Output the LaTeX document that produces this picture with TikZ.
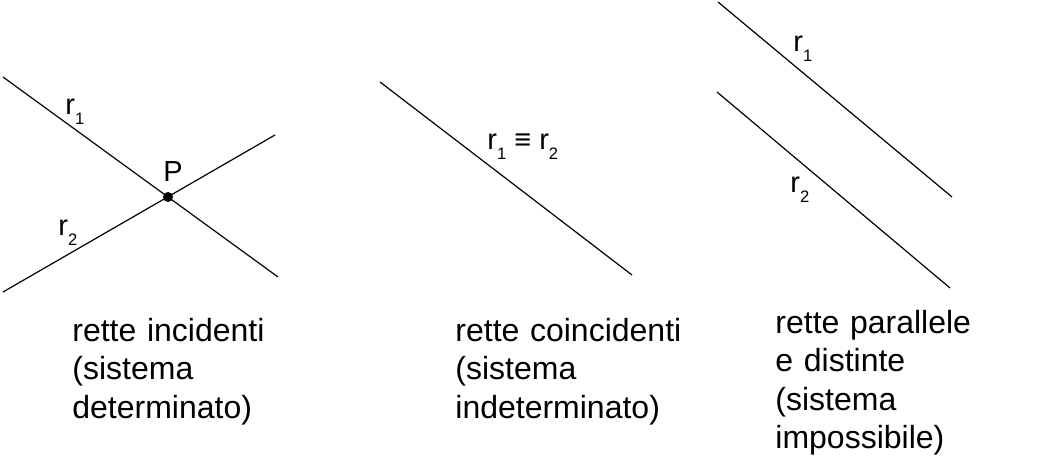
\documentclass[tikz,border=0pt]{standalone}
\usepackage{fontspec}
\setmainfont{Liberation Sans}
\usetikzlibrary{positioning}
\newcommand{\idx}[1]{\raisebox{-5pt}{\fontsize{8.3}{8.3}\selectfont #1}}

\begin{document}
\begin{tikzpicture}[
    x=0.5pt, y=-0.5pt,
    retta/.style={line width=0.6pt, black},
    lbl/.style={anchor=base west, inner sep=0pt, font=\fontsize{14.5}{17}\selectfont},
    caption/.style={anchor=base west, inner sep=0pt, text width=6cm, align=left, font=\fontsize{16}{19}\selectfont},
    punto/.style={circle, fill=black, inner sep=0pt, minimum size=5pt}
]
\useasboundingbox (0,0) rectangle (1053,475);

% Rette incidenti
\coordinate (a1) at (3,77);
\coordinate (a2) at (278,277);
\coordinate (b1) at (3,292);
\coordinate (b2) at (275,135);
\draw[retta] (a1) -- (a2);
\draw[retta] (b1) -- (b2);
\node[punto] (P) at (168,197) {};
\node[lbl] (lP) at (163,182) {P};
\node[lbl] (la) at (65,115) {r\idx{1}};
\node[lbl] (lb) at (58,236) {r\idx{2}};
\node[caption] (t1) at (72,342) {rette incidenti\\(sistema\\determinato)};

% Rette coincidenti
\coordinate (c1) at (380,82);
\coordinate (c2) at (632,275);
\draw[retta] (c1) -- (c2);
\node[lbl] (lc) at (487,150) {r\idx{1} ≡ r\idx{2}};
\node[caption] (t2) at (455,342) {rette coincidenti\\(sistema\\indeterminato)};

% Rette parallele
\coordinate (d1) at (718,2);
\coordinate (d2) at (952,197);
\coordinate (e1) at (717,92);
\coordinate (e2) at (950,288);
\draw[retta] (d1) -- (d2);
\draw[retta] (e1) -- (e2);
\node[lbl] (ld) at (793,52) {r\idx{1}};
\node[lbl] (le) at (790,193) {r\idx{2}};
\node[caption] (t3) at (775,334) {rette parallele\\e distinte\\(sistema\\impossibile)};

\end{tikzpicture}
\end{document}
